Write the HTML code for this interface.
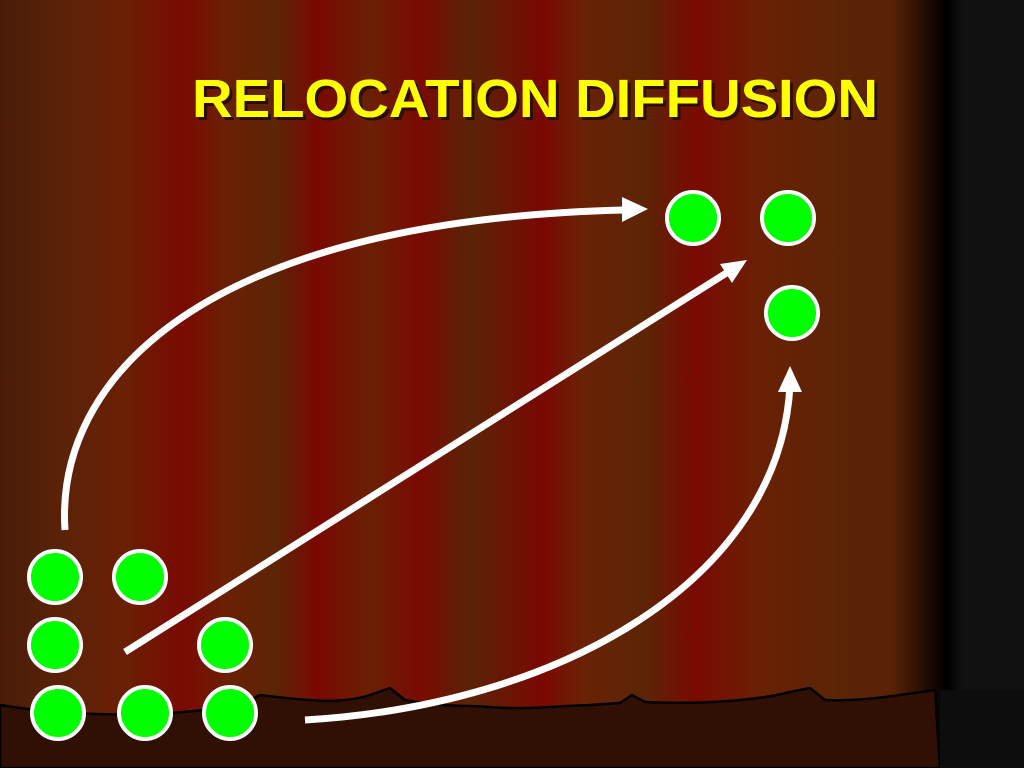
<!DOCTYPE html>
<html><head><meta charset="utf-8"><style>
html,body{margin:0;padding:0;width:1024px;height:768px;overflow:hidden;background:#000}
</style></head><body>
<svg width="1024" height="768" viewBox="0 0 1024 768" xmlns="http://www.w3.org/2000/svg">
<defs>
<linearGradient id="cur" x1="0" y1="0" x2="1024" y2="0" gradientUnits="userSpaceOnUse">
<stop offset="0" stop-color="#4a1c08"/>
<stop offset="0.06" stop-color="#5a2208"/>
<stop offset="0.12" stop-color="#6a2004"/>
<stop offset="0.18" stop-color="#7a0a02"/>
<stop offset="0.22" stop-color="#6a2004"/>
<stop offset="0.27" stop-color="#5c2406"/>
<stop offset="0.31" stop-color="#7a0802"/>
<stop offset="0.36" stop-color="#6a2004"/>
<stop offset="0.41" stop-color="#7a0a02"/>
<stop offset="0.46" stop-color="#5a2406"/>
<stop offset="0.53" stop-color="#7a0802"/>
<stop offset="0.57" stop-color="#6a2206"/>
<stop offset="0.63" stop-color="#5c2406"/>
<stop offset="0.68" stop-color="#7a0a02"/>
<stop offset="0.74" stop-color="#6a2004"/>
<stop offset="0.82" stop-color="#5c2406"/>
<stop offset="0.87" stop-color="#5a2206"/>
<stop offset="0.9" stop-color="#2a0e04"/>
<stop offset="0.925" stop-color="#000"/>
<stop offset="0.94" stop-color="#111"/>
<stop offset="1" stop-color="#111"/>
</linearGradient>
<filter id="sh"><feDropShadow dx="3" dy="3" stdDeviation="0" flood-color="#2a0a00"/></filter>
</defs>
<rect width="1024" height="768" fill="url(#cur)"/>
<path d="M0,705 C60,715 150,720 240,705 L260,695 C300,700 340,705 370,695 L390,688 L405,700 C450,708 470,705 490,707 C520,710 560,706 590,705 L620,703 L632,695 L645,702 C700,705 760,700 790,692 L810,688 L825,700 C860,702 900,695 935,690 L940,768 L0,768 Z" fill="#301004" stroke="#000" stroke-width="2.5"/>
<rect x="940" y="690" width="84" height="78" fill="#0d0d0d"/>
<text x="192" y="117" font-family="Liberation Sans, sans-serif" font-weight="bold" font-size="54" fill="#ffff00" textLength="686" lengthAdjust="spacingAndGlyphs" filter="url(#sh)">RELOCATION DIFFUSION</text>
<g fill="none" stroke="#fff" stroke-width="7" stroke-linecap="butt">
<path d="M65,530 C55,380 200,220 625,210"/>
<path d="M125,652 L728,272"/>
<path d="M305,720 C560,705 780,580 790,385"/>
</g>
<g fill="#fff">
<polygon points="648,209 622,197 622,222"/>
<polygon points="747,260 720,264 732,283"/>
<polygon points="790,366 778,392 802,392"/>
</g>
<g fill="#00ff00" stroke="#fff" stroke-width="4">
<circle cx="55" cy="577" r="26"/>
<circle cx="140" cy="577" r="26"/>
<circle cx="55" cy="645" r="26"/>
<circle cx="225" cy="645" r="26"/>
<circle cx="58" cy="713" r="26"/>
<circle cx="145" cy="713" r="26"/>
<circle cx="230" cy="713" r="26"/>
<circle cx="693" cy="218" r="26"/>
<circle cx="788" cy="218" r="26"/>
<circle cx="792" cy="313" r="26"/>
</g>
</svg>
</body></html>
